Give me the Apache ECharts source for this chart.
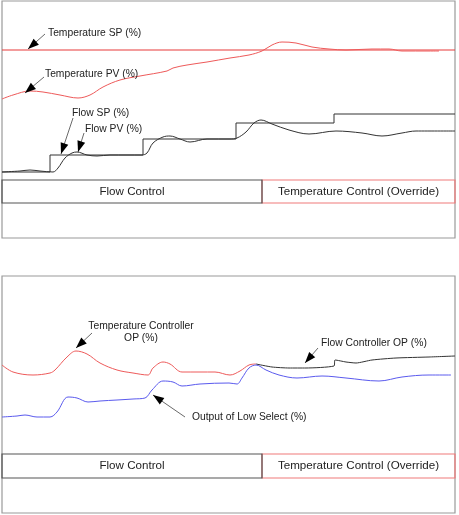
<!DOCTYPE html>
<html>
<head>
<meta charset="utf-8">
<script src="https://cdn.jsdelivr.net/npm/echarts@6/dist/echarts.min.js"></script>
<style>html,body{margin:0;padding:0;background:#fff}#c{width:459px;height:515px}</style>
</head>
<body>
<div id="c"></div>
<script>
// ---- data (time units along x, signal % along y) ----
const tempSP = [[0,188],[453,188]];
const tempPV = [[0,139],[11,143],[28,147],[41,146],[58,143],[76,140],[88,143],[101,151],[118,158],[138,162],[165,167],[171,170],[185,173],[205,176],[228,180],[247,183],[260,187],[270,193],[280,196],[294,195],[310,191],[327,189],[344,188],[370,189],[387,189],[400,187],[427,187],[437,187]];
const flowSP = [[0,66],[48,83],[141,99],[234,115],[332,124],[453,124]];
const flowPV = [[0,66],[18,67],[28,68],[38,67],[51,66],[56,70],[63,80],[70,85],[75,86],[85,83],[95,82],[108,83],[125,83],[140,83],[145,85],[151,95],[161,101],[168,102],[178,99],[188,96],[205,99],[228,99],[235,100],[244,106],[252,115],[259,118],[270,114],[287,108],[307,104],[334,107],[360,105],[380,102],[400,105],[414,107],[453,107]];
const tempOP = [[0,148],[11,141],[31,138],[48,140],[53,143],[65,156],[74,162],[85,159],[98,150],[115,143],[131,140],[146,138],[151,145],[161,151],[168,149],[180,141],[198,141],[213,141],[228,138],[238,142],[247,148],[254,149]];
const flowOP = [[254,149],[270,146],[287,145],[304,145],[332,147],[333,153],[344,151],[354,150],[370,153],[394,155],[427,156],[453,157]];
const lowSelect = [[0,96],[15,97],[23,98],[35,96],[48,96],[55,101],[66,116],[75,115],[86,111],[98,112],[115,113],[131,114],[143,115],[150,123],[161,132],[171,131],[180,127],[198,129],[227,130],[235,129],[240,135],[247,145],[254,148],[264,143],[277,138],[295,135],[320,137],[344,135],[377,132],[400,136],[427,138],[449,138]];
const phaseBounds = [0, 260, 453];
const phaseLabels = ['Flow Control', 'Temperature Control (Override)'];
const phaseBandTop = [35, 58];
const phaseBandBottom = [35, 59];
// annotations: label anchor, arrow start, arrow tip
const topNotes = [
  {text:'Temperature SP (%)', at:[46,205], from:[43,204], to:[26,189]},
  {text:'Temperature PV (%)', at:[43,164], from:[42,161], to:[23,145]},
  {text:'Flow SP (%)', at:[70,125], from:[71,120], to:[59,84]},
  {text:'Flow PV (%)', at:[83,109], from:[82,105], to:[76,86]}
];
const bottomNotes = [
  {text:'Temperature Controller\nOP (%)', at:[139,181], from:[90,180], to:[74,165], center:true},
  {text:'Flow Controller OP (%)', at:[319,170], from:[316,165], to:[303,150]},
  {text:'Output of Low Select (%)', at:[190,96], from:[183,96], to:[151,118]}
];

const FONT = 'Liberation Sans, Arial, sans-serif';
const RED = '#ee5a5a', BLUE = '#5a5aee', DARK = '#333';
const HEAD_W = 8, HEAD_L = 11;

function phaseArea(band) {
  const styles = [{border:'#555'}, {border:'#f07a7a'}];
  const items = [];
  for (let i = phaseLabels.length - 1; i >= 0; i--) {
    items.push([
      {xAxis: phaseBounds[i], yAxis: band[0],
       itemStyle:{color:'rgba(0,0,0,0)', borderColor:styles[i].border, borderWidth:1.2},
       label:{show:true, position:'inside', formatter:phaseLabels[i], color:'#222', fontSize:11.6, fontFamily:FONT}},
      {xAxis: phaseBounds[i+1], yAxis: band[1]}
    ]);
  }
  return {silent:true, data:items};
}
function arrows(notes) {
  return {
    silent:true, symbol:['none','none'],
    lineStyle:{color:'#6a6a6a', width:1, type:'solid'},
    label:{show:false},
    emphasis:{disabled:true},
    data: notes.map(n => [{coord:n.from},{coord:n.to}])
  };
}
function marks(notes) {
  const data = [];
  notes.forEach(n => {
    data.push({
      coord:n.at, symbol:'circle', symbolSize:0,
      itemStyle:{color:'rgba(0,0,0,0)'},
      label:{show:true, formatter:n.text, position:n.center?'inside':'right', distance:0,
             align:n.center?'center':'left', color:'#222', fontSize:10.3, lineHeight:12,
             fontFamily:FONT}
    });
    // arrow head (axes are 1 unit ≈ 1 px, so angles carry over)
    const dx = n.to[0]-n.from[0], dy = n.to[1]-n.from[1];
    const len = Math.hypot(dx, dy);
    const ux = dx/len, uy = dy/len;
    const ang = Math.atan2(dy, dx)*180/Math.PI - 90;
    data.push({
      coord:[n.to[0]-ux*HEAD_L/2, n.to[1]-uy*HEAD_L/2],
      symbol:'triangle', symbolSize:[HEAD_W, HEAD_L], symbolRotate:ang,
      itemStyle:{color:'#000'}, label:{show:false}
    });
  });
  return {silent:true, data};
}
function line(name, data, gi, color, extra) {
  return Object.assign({
    name, type:'line', data, xAxisIndex:gi, yAxisIndex:gi,
    showSymbol:false, smooth:0.35, animation:false, silent:true,
    lineStyle:{color, width:1}, itemStyle:{color}
  }, extra||{});
}

const chart = echarts.init(document.getElementById('c'), null, {renderer:'canvas'});
chart.setOption({
  animation:false,
  backgroundColor:'#fff',
  grid:[
    {left:2, top:1, width:453, height:237, show:true, borderColor:'#9a9a9a', borderWidth:1.2, backgroundColor:'transparent'},
    {left:2, top:276, width:453, height:237, show:true, borderColor:'#9a9a9a', borderWidth:1.2, backgroundColor:'transparent'}
  ],
  xAxis:[
    {type:'value', gridIndex:0, min:0, max:453, show:false},
    {type:'value', gridIndex:1, min:0, max:453, show:false}
  ],
  yAxis:[
    {type:'value', gridIndex:0, min:0, max:237, show:false},
    {type:'value', gridIndex:1, min:0, max:237, show:false}
  ],
  series:[
    line('Temperature SP (%)', tempSP, 0, '#e83a3a', {smooth:false, lineStyle:{color:'#e83a3a', width:1.2},
      markArea: phaseArea(phaseBandTop), markLine: arrows(topNotes), markPoint: marks(topNotes)}),
    line('Temperature PV (%)', tempPV, 0, RED),
    line('Flow SP (%)', flowSP, 0, DARK, {smooth:false, step:'end'}),
    line('Flow PV (%)', flowPV, 0, DARK),
    line('Temperature Controller OP (%)', tempOP, 1, RED, {
      markArea: phaseArea(phaseBandBottom), markLine: arrows(bottomNotes), markPoint: marks(bottomNotes)}),
    line('Flow Controller OP (%)', flowOP, 1, DARK, {smooth:0.2}),
    line('Output of Low Select (%)', lowSelect, 1, BLUE)
  ]
});
</script>
</body>
</html>
